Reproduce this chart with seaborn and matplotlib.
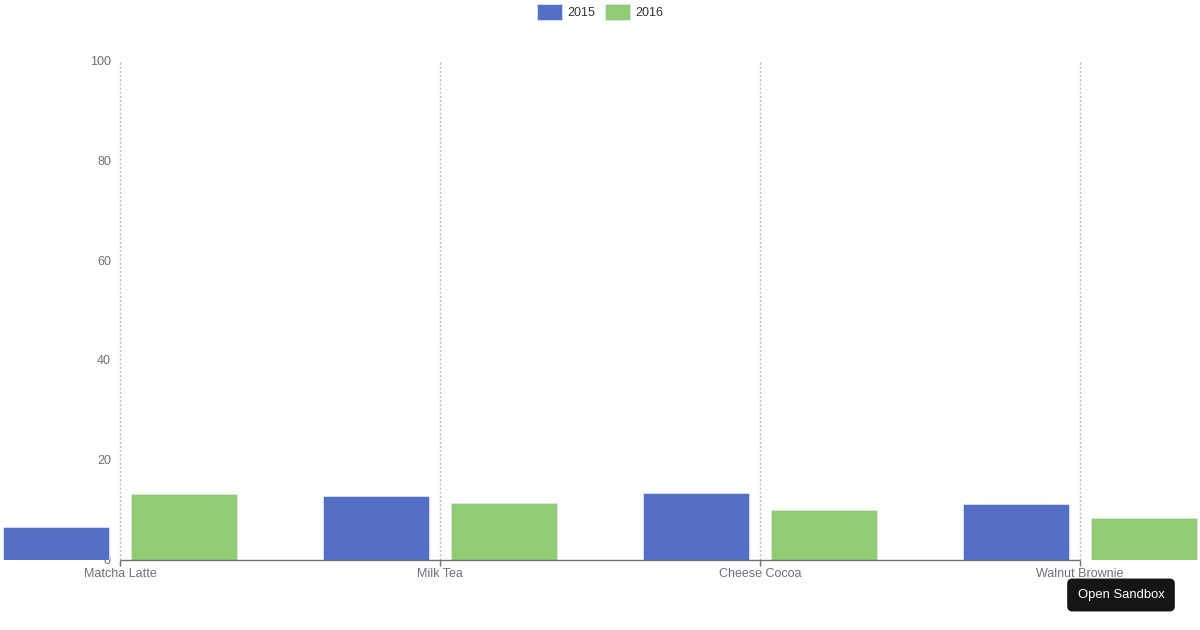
import pandas as pd
import matplotlib
matplotlib.use('Agg')
import matplotlib.pyplot as plt
import seaborn as sns

# chart values
categories = ['Matcha Latte', 'Milk Tea', 'Cheese Cocoa', 'Walnut Brownie']
years = ['2015', '2016']
values_2015 = [6.7, 12.9, 13.4, 11.3]
values_2016 = [13.3, 11.4, 10.1, 8.4]
y_ticks = [0, 20, 40, 60, 80, 100]

df = pd.DataFrame({
    'product': categories * 2,
    'year': [years[0]] * len(categories) + [years[1]] * len(categories),
    'value': values_2015 + values_2016,
})

sns.set_style('white')
plt.rcParams['font.family'] = ['Liberation Sans', 'DejaVu Sans']

label_col = '#6E7079'
fig = plt.figure(figsize=(12, 6.3), dpi=100)
ax = fig.add_axes([0, 70 / 630, 1, 500 / 630])

sns.barplot(data=df, x='product', y='value', hue='year', order=categories,
            hue_order=years, palette=['#5470C6', '#91CC75'], saturation=1,
            width=0.8, gap=0.17, edgecolor='#DDE3F5', linewidth=0.6, ax=ax, legend=True)

ax.set_xlim(-0.375, len(categories) - 1 + 0.375)
ax.set_ylim(0, 100)
ax.set_yticks(y_ticks)
ax.set_xlabel('')
ax.set_ylabel('')

for s in ax.spines.values():
    s.set_visible(False)
ax.spines['left'].set_position(('data', 0))

# axis line only spans the categories
ax.hlines(0, 0, len(categories) - 1, color=label_col, linewidth=1, zorder=3, clip_on=False)

ax.xaxis.grid(True, linestyle=(0, (1.5, 1.5)), color='#BBBBBB', linewidth=1)
ax.yaxis.grid(False)
ax.set_axisbelow(True)

ax.tick_params(axis='x', length=4, width=1, color=label_col, pad=1.5,
               labelsize=9, labelcolor=label_col, bottom=True)
ax.tick_params(axis='y', length=0, pad=6.5, labelsize=9, labelcolor=label_col, left=True)

handles, labels = ax.get_legend_handles_labels()
ax.get_legend().remove()
fig.legend(handles, labels, loc='center', bbox_to_anchor=(0.5, 1 - 12 / 630), ncol=2,
           frameon=False, fontsize=9, handlelength=2.0, handleheight=1.5,
           handletextpad=0.4, columnspacing=0.8, labelcolor='#333333')

fig.text(1121 / 1200, 1 - 595 / 630, 'Open Sandbox', color='white', fontsize=9.4,
         ha='center', va='center',
         bbox=dict(boxstyle='round,pad=0.8,rounding_size=0.4', fc='#151515', ec='none'))

fig.savefig('out.png', dpi=100)
